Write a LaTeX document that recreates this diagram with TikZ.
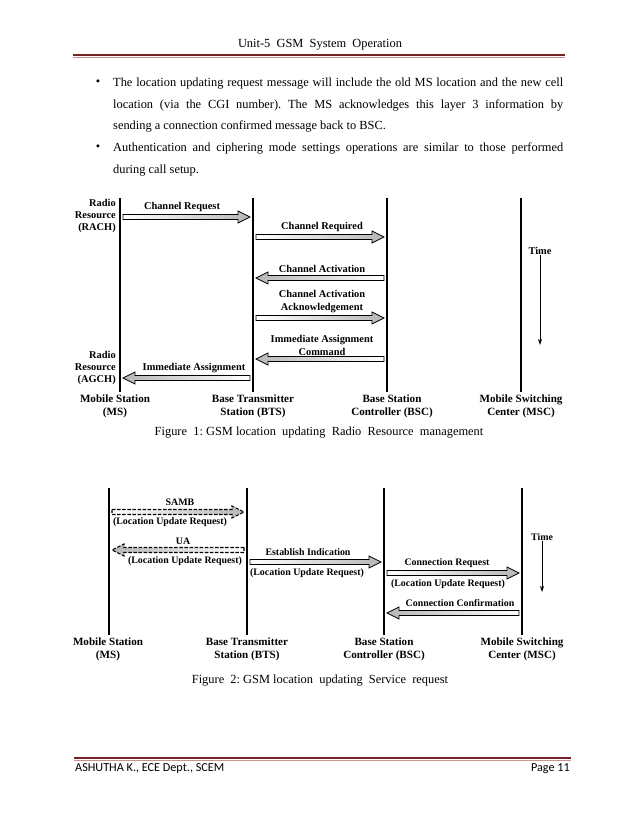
\documentclass[tikz,border=0pt]{standalone}
\usepackage{fontspec}
\setmainfont{Liberation Serif}
\newfontfamily\footfont{Carlito}
\usetikzlibrary{arrows.meta,calc}
\definecolor{rulered}{RGB}{116,34,38}
\definecolor{rulepink}{RGB}{198,146,146}
\definecolor{sigfill}{RGB}{182,182,182}
\frenchspacing
\tikzset{
  body/.style ={inner sep=0pt, font=\fontsize{12.4}{21.8}\selectfont},
  para/.style ={body, anchor=north west, text width=450pt, align=justify},
  life/.style ={line width=1.6pt},
  who/.style  ={inner sep=0pt, align=center, font=\fontsize{11.1}{12.8}\selectfont\bfseries},
  tag/.style  ={inner sep=0pt, align=center, font=\fontsize{10.4}{12.2}\selectfont\bfseries},
  tagb/.style ={inner sep=0pt, align=center, font=\fontsize{9.9}{11.6}\selectfont\bfseries},
  sig/.style  ={draw, line width=0.8pt, line join=miter},
  fwd/.style  ={sig, left color=white, right color=sigfill},
  back/.style ={sig, left color=sigfill, right color=white},
  weak/.style ={dash pattern=on 3.5pt off 1.6pt, line width=1.1pt},
  time/.style ={-{Stealth[length=6pt,width=4pt]}, line width=0.8pt}
}
\newcommand\sigarrow[4][fwd]{%
  \path[#1] let \p1=(#2), \p2=(#3), \p3=(0,#4), \n1={(\x2>\x1) ? 3 : -3}, \n2={(\x2>\x1) ? 15 : -15} in
    ({\x1+\n1*1pt},{\y3+2.5pt}) -- ({\x2-\n2*1pt},{\y3+2.5pt}) -- ({\x2-\n2*1pt},{\y3+6pt})
    -- ({\x2-\n1*1pt},\y3) -- ({\x2-\n2*1pt},{\y3-6pt}) -- ({\x2-\n2*1pt},{\y3-2.5pt})
    -- ({\x1+\n1*1pt},{\y3-2.5pt}) -- cycle;}

\begin{document}
\begin{tikzpicture}[x=1pt, y=-1pt]
  \fill[white] (0,0) rectangle (638,826);
  \useasboundingbox (0,0) rectangle (638,826);

  \node[body] (head) at (320,45) {Unit-5\ \ GSM\ \ System\ \ Operation};
  \draw[rulered, line width=2.8pt] (73,55) -- (565,55);
  \draw[rulepink, line width=0.8pt] (73,57.6) -- (565,57.6);

  \node[body] (b1) at (98,83) {\textbullet};
  \node[para] (p1) at (113,77.5) {The location updating request message will include the old MS location and the new cell\linebreak
    location (via the CGI number). The MS acknowledges this layer 3 information by\linebreak
    sending a connection confirmed message back to BSC.};
  \node[body] (b2) at (98,148) {\textbullet};
  \node[para] (p2) at (113,142.5) {Authentication and ciphering mode settings operations are similar to those performed\linebreak
    during call setup.};

  \coordinate (ms) at (120,198);
  \coordinate (bts) at (253,198);
  \coordinate (bsc) at (387,198);
  \coordinate (msc) at (521,198);
  \foreach \l in {ms,bts,bsc,msc} \draw[life] (\l) -- ++(0,194);
  \node[who] (msname) at (115,406) {Mobile Station\\(MS)};
  \node[who] (btsname) at (253,406) {Base Transmitter\\Station (BTS)};
  \node[who] (bscname) at (392,406) {Base Station\\Controller (BSC)};
  \node[who] (mscname) at (521,406) {Mobile Switching\\Center (MSC)};
  \node[tag, anchor=east, align=right] (rach) at (116,216) {Radio\\Resource\\(RACH)};
  \node[tag, anchor=east, align=right] (agch) at (116,368) {Radio\\Resource\\(AGCH)};

  \sigarrow{ms}{bts}{217}
  \node[tag] at (182,207) {Channel Request};
  \sigarrow{bts}{bsc}{237}
  \node[tag] at (322,227) {Channel Required};
  \sigarrow[back]{bsc}{bts}{278}
  \node[tag] at (322,269) {Channel Activation};
  \sigarrow{bts}{bsc}{318}
  \node[tag] at (322,301.5) {Channel Activation\\Acknowledgement};
  \sigarrow[back]{bsc}{bts}{359}
  \node[tag] at (322,345.5) {Immediate Assignment\\Command};
  \sigarrow[back]{bts}{ms}{378}
  \node[tag] at (194,368) {Immediate Assignment};

  \node[tag] (time1) at (540,251) {Time};
  \coordinate (tend1) at (540,345);
  \draw[time] (time1.south) -- (tend1);

  \node[body] (cap1) at (319,433) {Figure\ \ 1: GSM location\ \ updating\ \ Radio\ \ Resource\ \ management};

  \coordinate (ms2) at (109,488);
  \coordinate (bts2) at (247,488);
  \coordinate (bsc2) at (384,488);
  \coordinate (msc2) at (522,488);
  \foreach \l in {ms2,bts2,bsc2,msc2} \draw[life, line width=1.3pt] (\l) -- ++(0,147);
  \node[who] (msname2) at (108,649) {Mobile Station\\(MS)};
  \node[who] (btsname2) at (247,649) {Base Transmitter\\Station (BTS)};
  \node[who] (bscname2) at (384,649) {Base Station\\Controller (BSC)};
  \node[who] (mscname2) at (522,649) {Mobile Switching\\Center (MSC)};

  \sigarrow[fwd,weak]{ms2}{bts2}{512}
  \node[tagb] at (180,502) {SAMB};
  \node[tagb] at (170,522) {(Location Update Request)};
  \sigarrow[back,weak]{bts2}{ms2}{550}
  \node[tagb] at (183,541) {UA};
  \node[tagb] at (185,561) {(Location Update Request)};
  \sigarrow{bts2}{bsc2}{562}
  \node[tagb] at (308,552) {Establish Indication};
  \node[tagb] at (307,573) {(Location Update Request)};
  \sigarrow{bsc2}{msc2}{573}
  \node[tagb] at (447,563) {Connection Request};
  \node[tagb] at (448,584) {(Location Update Request)};
  \sigarrow[back]{msc2}{bsc2}{613}
  \node[tagb] at (460,603) {Connection Confirmation};

  \node[tagb] (time2) at (542,537) {Time};
  \coordinate (tend2) at (542,592);
  \draw[time] (time2.south) -- (tend2);

  \node[body] (cap2) at (320,681) {Figure\ \ 2: GSM location\ \ updating\ \ Service\ \ request};

  \draw[rulered, line width=2.8pt] (74,758) -- (571,758);
  \draw[rulepink, line width=0.8pt] (74,760.6) -- (571,760.6);
  \node[inner sep=0pt, anchor=west, font=\footfont\fontsize{12.2}{13}\selectfont] (foot) at (75,769) {ASHUTHA K., ECE Dept., SCEM};
  \node[inner sep=0pt, anchor=east, font=\footfont\fontsize{12.2}{13}\selectfont] (page) at (570,769) {Page 11};
\end{tikzpicture}
\end{document}
